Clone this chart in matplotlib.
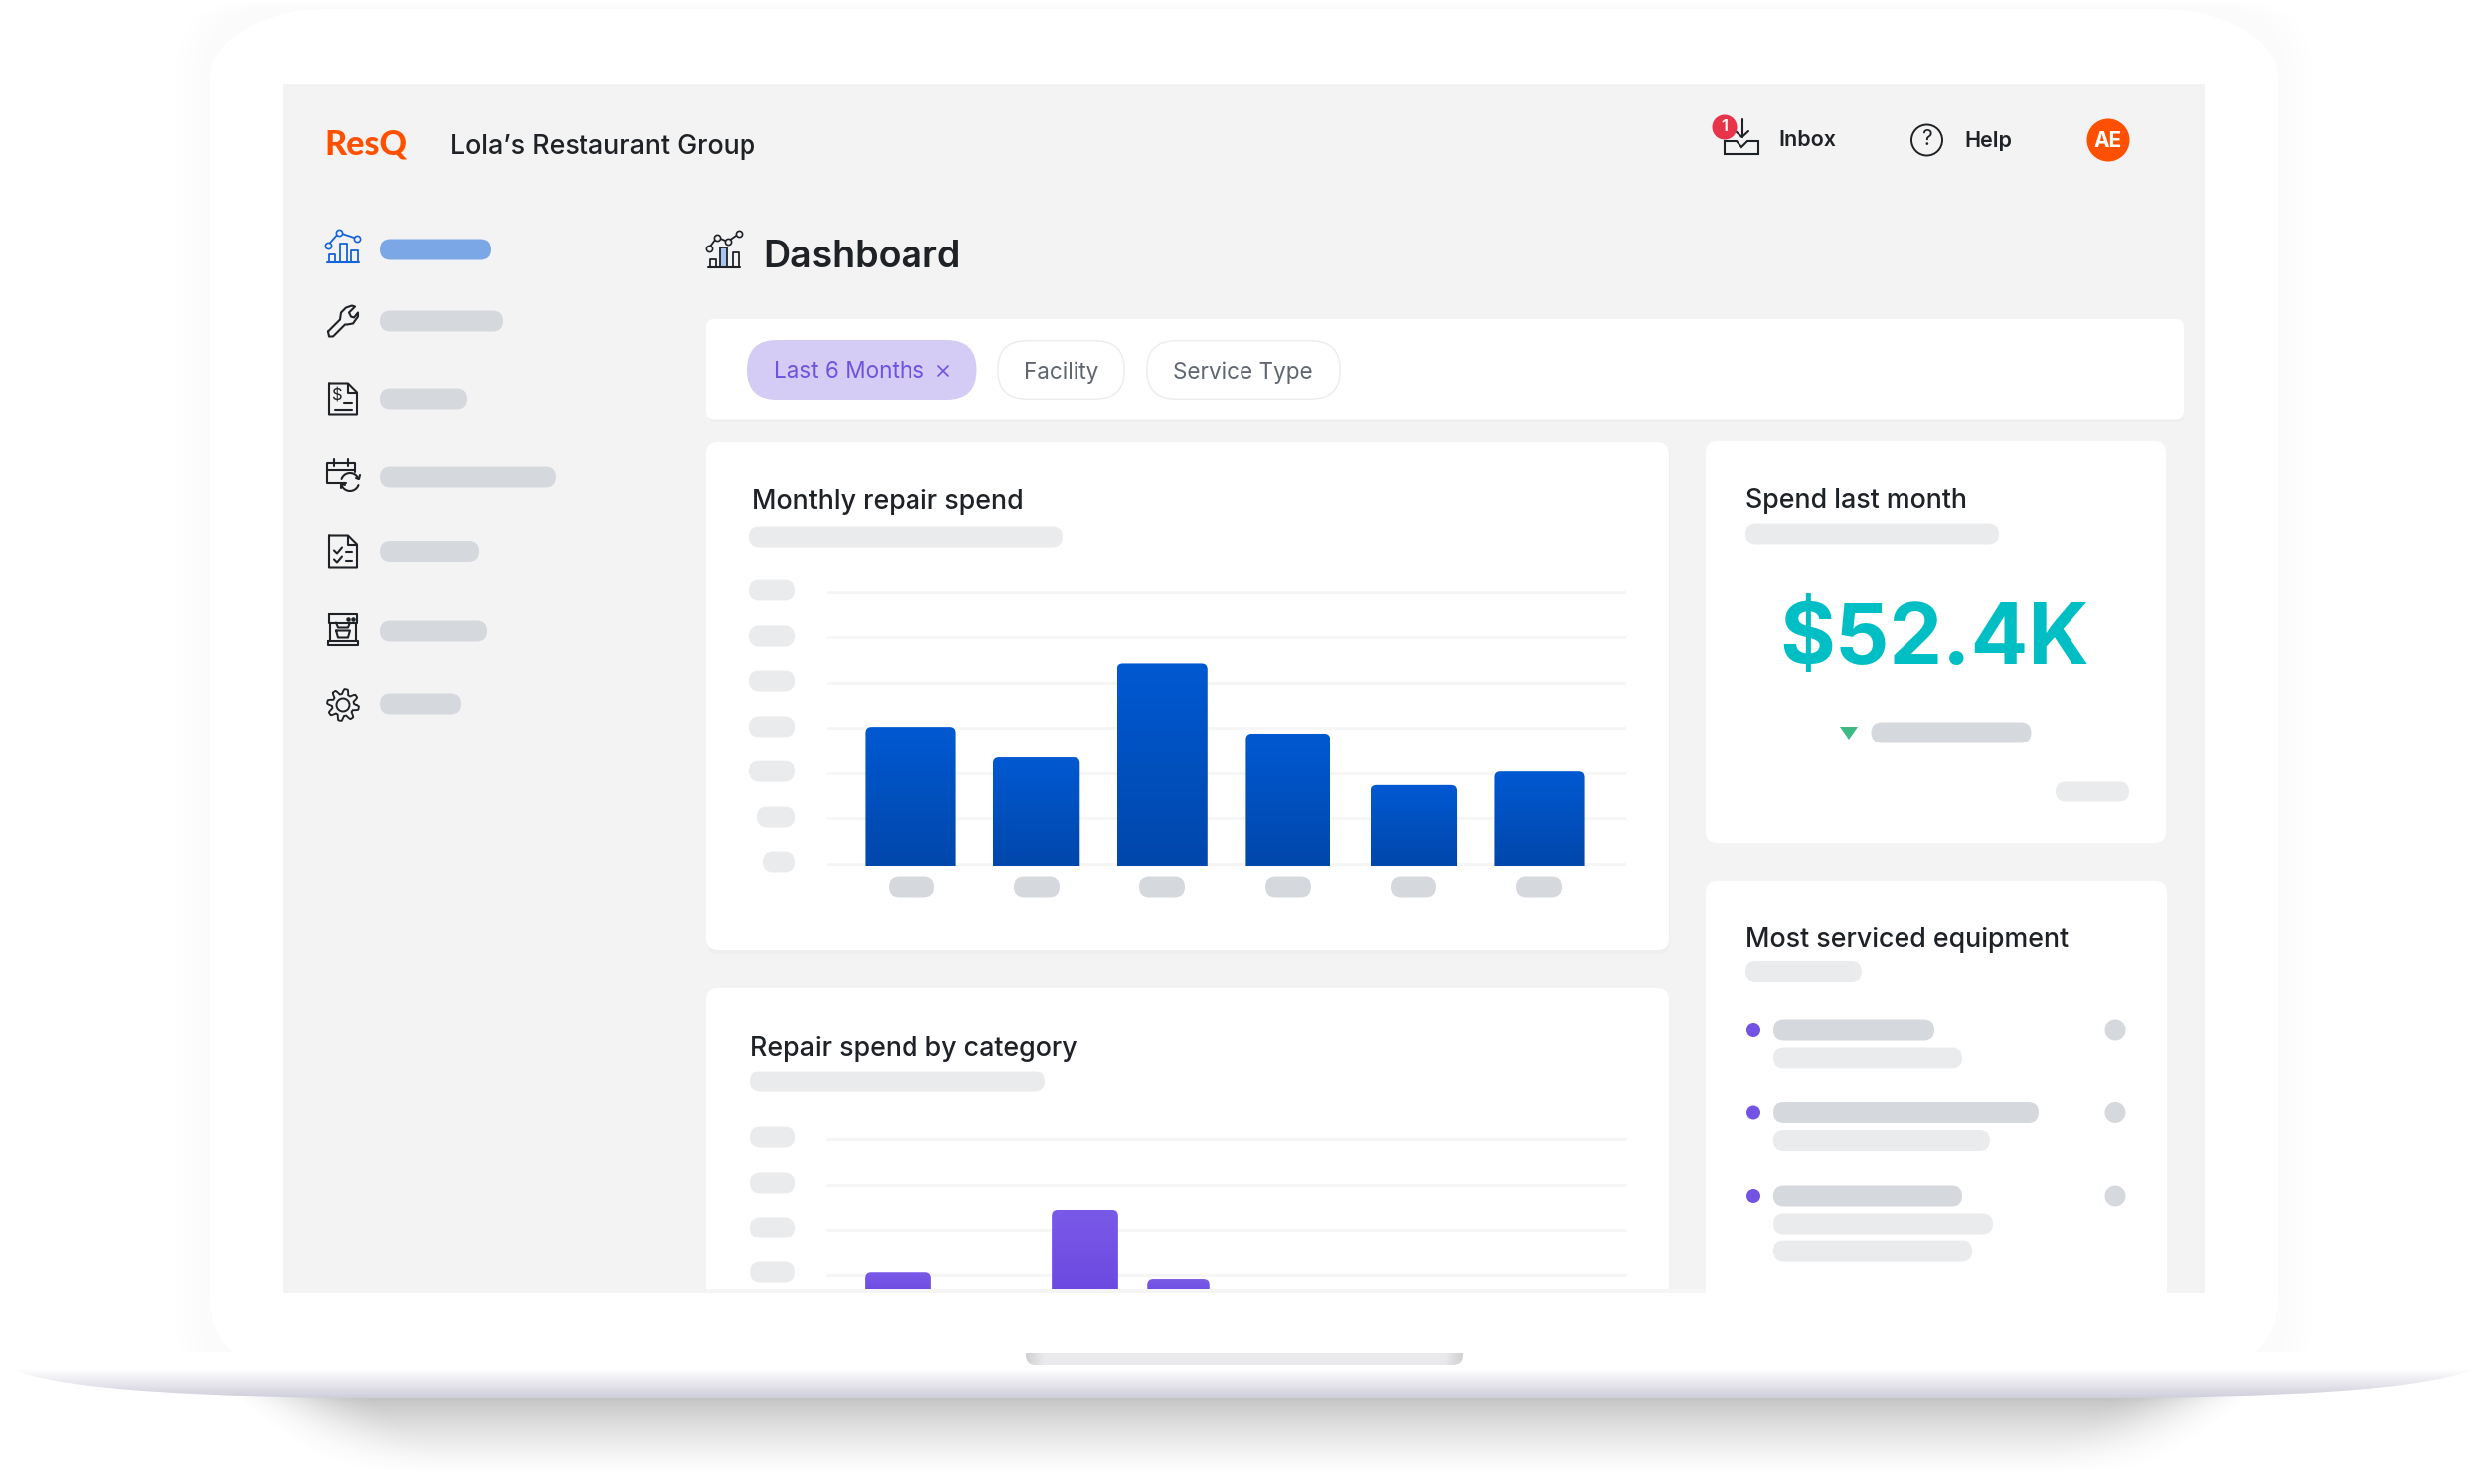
import numpy as np
import matplotlib
matplotlib.use('Agg')
import matplotlib.pyplot as plt
from matplotlib.patches import FancyBboxPatch, Circle, Rectangle, PathPatch, Polygon
from matplotlib.path import Path
from matplotlib.colors import to_rgb

# chart data
monthly_spend = [3.03, 2.35, 4.43, 2.88, 1.74, 2.04]
monthly_widths = [0.72, 0.69, 0.72, 0.67, 0.69, 0.72]
category_pos = [0, 2, 3]
category_spend = [3.05, 4.44, 2.90]
category_widths = [0.71, 0.71, 0.665]
grid_levels = [0, 1, 2, 3, 4, 5, 6]

company = "Lola’s Restaurant Group"
filters = ["Last 6 Months", "Facility", "Service Type"]
big_number = "$52.4K"

INK = '#1E2226'
BG = '#F3F3F3'
PILL_DARK = '#D5D8DD'
PILL_LIGHT = '#EAEBED'
ORANGE = '#FF5000'
PURPLE = '#7353E3'
UI_FONT = ['Inter', 'DejaVu Sans']

plt.rcParams['font.family'] = UI_FONT

fig = plt.figure(figsize=(25, 14.93), dpi=100, facecolor='white')
ax = fig.add_axes([0, 0, 1, 1])
ax.set_xlim(0, 2500)
ax.set_ylim(1493, 0)
ax.axis('off')


def rrect(x0, y0, x1, y1, r, color, z=2, alpha=None):
    p = FancyBboxPatch((x0 + r, y0 + r), x1 - x0 - 2 * r, y1 - y0 - 2 * r,
                       boxstyle=f"round,pad={r},rounding_size={r}",
                       fc=color, ec='none', zorder=z, alpha=alpha)
    ax.add_patch(p)
    return p


def pill(x0, x1, yc, color=PILL_LIGHT, h=21):
    rrect(x0, yc - h / 2, x1, yc + h / 2, h / 2, color, z=4)


def label(x, y, s, size, weight=500, color=INK, ha='left', family=None):
    ax.text(x, y, s, fontsize=size, fontweight=weight, color=color, ha=ha,
            va='center', zorder=6, family=family or UI_FONT)


def gradient(a, extent, top, bottom, clip_path, transform, z=3):
    t = np.linspace(0, 1, 128)[:, None, None]
    img = (1 - t) * np.array(to_rgb(top)) + t * np.array(to_rgb(bottom))
    im = a.imshow(img, extent=extent, aspect='auto', origin='upper', zorder=z,
                  interpolation='bilinear')
    im.set_clip_path(clip_path, transform)
    return im


# --- laptop body and base ---
for i in range(4):
    grow = 8 * (4 - i)
    rrect(210 - grow, 10 - grow / 4, 2293 + grow, 1400, 70, '#000000', z=0.5, alpha=0.005)

body = Path([(211, 78), (211, 32), (285, 9), (320, 9), (2180, 9), (2220, 9), (2292, 32), (2292, 78),
             (2292, 1307), (2292, 1335), (2280, 1350), (2268, 1361), (235, 1361), (222, 1350),
             (211, 1335), (211, 1307), (211, 78)],
            [Path.MOVETO, Path.CURVE4, Path.CURVE4, Path.CURVE4, Path.LINETO, Path.CURVE4, Path.CURVE4,
             Path.CURVE4, Path.LINETO, Path.CURVE4, Path.CURVE4, Path.CURVE4, Path.LINETO, Path.CURVE4,
             Path.CURVE4, Path.CURVE4, Path.CLOSEPOLY])
ax.add_patch(PathPatch(body, fc='white', ec='none', zorder=1))
ax.add_patch(Rectangle((0, 1360), 2500, 20, fc='white', ec='none', zorder=1))

# soft shadow under the base
xs = np.linspace(140, 2360, 500)
ys = np.linspace(0, 1, 120)
X, Y = np.meshgrid(xs, ys)
inset = 85 + 95 * Y
edge = np.clip(np.minimum(X - (140 + inset), (2360 - inset) - X) / 150, 0, 1)
edge = edge * edge * (3 - 2 * edge)
shade = np.zeros(X.shape + (4,))
shade[..., :3] = 0.30
shade[..., 3] = 0.34 * edge * (1 - Y) ** 1.3
ax.imshow(shade, extent=(140, 2360, 1484, 1405), aspect='auto', origin='upper', zorder=0.8)

base = Path([(12, 1377), (2488, 1377), (2440, 1399), (2280, 1406), (2120, 1406),
             (380, 1406), (220, 1406), (60, 1399), (12, 1377), (12, 1377)],
            [Path.MOVETO, Path.LINETO, Path.CURVE4, Path.CURVE4, Path.CURVE4,
             Path.LINETO, Path.CURVE4, Path.CURVE4, Path.CURVE4, Path.CLOSEPOLY])
gradient(ax, (12, 2488, 1406, 1377), '#FFFFFF', '#CFCEDC', base, ax.transData, z=2)

# hinge notch, darker towards its two ends
notch_x = np.linspace(0, 1, 200)
notch_grey = np.interp(notch_x, [0, 0.04, 0.96, 1], [0.82, 0.92, 0.92, 0.82])
notch_img = np.dstack([notch_grey, notch_grey, notch_grey + 0.012])
notch = rrect(1032, 1345, 1472, 1373, 10, 'none', z=1.5)
im = ax.imshow(notch_img, extent=(1032, 1472, 1373, 1345), aspect='auto', origin='upper', zorder=1.5)
im.set_clip_path(notch)
ax.add_patch(Rectangle((1020, 1335), 470, 25.5, fc='white', ec='none', zorder=1.6))
ax.set_xlim(0, 2500)
ax.set_ylim(1493, 0)

# --- screen ---
ax.add_patch(Rectangle((285, 85), 1933, 1216, fc=BG, ec='none', zorder=1.8))

label(326, 146, "ResQ", 24.5, weight=900, color=ORANGE, family=['Lato', 'DejaVu Sans'])
label(453, 148, company, 19.3, weight=500)


def stroke(xs, ys, color=INK, lw=1.5, z=5):
    ax.plot(xs, ys, color=color, lw=lw, solid_capstyle='round', solid_joinstyle='round', zorder=z)


def chart_icon(cx, cy, bars, points, base_y, color=INK, fill=None):
    stroke([cx - 16, cx + 16], [cy + base_y, cy + base_y], color)
    for k, (b0, b1, top) in enumerate(bars):
        if fill and k == 1:
            ax.add_patch(Rectangle((cx + b0, cy + top), b1 - b0, base_y - top, fc=fill, ec='none', zorder=4))
        stroke([cx + b0, cx + b0, cx + b1, cx + b1],
               [cy + base_y, cy + top, cy + top, cy + base_y], color, lw=1.3)
    px = [cx + p[0] for p in points]
    py = [cy + p[1] for p in points]
    stroke(px, py, color, lw=1.3)
    ax.scatter(px, py, s=20, fc=BG, ec=color, lw=1.2, zorder=6)


def doc_icon(cx, cy):
    xs = [cx - 14, cx + 5, cx + 14, cx + 14, cx - 14, cx - 14]
    ys = [cy - 16, cy - 16, cy - 7, cy + 16, cy + 16, cy - 16]
    stroke(xs, ys)
    stroke([cx + 5, cx + 5, cx + 14], [cy - 16, cy - 7, cy - 7])


def dollar_doc(cx, cy):
    doc_icon(cx, cy)
    ax.text(cx - 6, cy - 3, "$", fontsize=12, ha='center', va='center', color=INK, zorder=6)
    stroke([cx + 1, cx + 9], [cy + 3, cy + 3])
    stroke([cx - 8, cx + 9], [cy + 10, cy + 10])


def check_doc(cx, cy):
    doc_icon(cx, cy)
    for dy in (0, 9):
        stroke([cx - 9, cx - 6, cx - 1], [cy + dy - 1, cy + dy + 2, cy + dy - 4])
        stroke([cx + 3, cx + 9], [cy + dy, cy + dy])


def wrench_icon(cx, cy):
    xs = [-15, -3, -2, 3, 9, 12, 6, 8, 11, 15, 15, 10, 4, 2, -10, -14, -15]
    ys = [10, -2, -9, -14, -16, -15, -9, -5, -4, -9, -5, 2, 3, 3, 15, 15, 10]
    stroke([cx + v for v in xs], [cy + v for v in ys])


def calendar_icon(cx, cy):
    stroke([cx + 3, cx - 16, cx - 16, cx + 12, cx + 12], [cy + 8, cy + 8, cy - 12, cy - 12, cy - 3])
    stroke([cx - 16, cx + 12], [cy - 5, cy - 5])
    stroke([cx - 9, cx - 9], [cy - 16, cy - 9])
    stroke([cx + 5, cx + 5], [cy - 16, cy - 9])
    t = np.radians(np.linspace(200, 340, 20))
    stroke(cx + 7 + 9 * np.cos(t), cy + 7 + 9 * np.sin(t))
    t = np.radians(np.linspace(20, 160, 20))
    stroke(cx + 7 + 9 * np.cos(t), cy + 7 + 9 * np.sin(t))
    stroke([cx + 13, cx + 16, cx + 17], [cy + 3, cy + 4, cy])
    stroke([cx - 2, cx - 2, cx + 2], [cy + 13, cy + 9, cy + 10])


def coffee_icon(cx, cy):
    stroke([cx - 14, cx + 14, cx + 14, cx - 14, cx - 14], [cy - 15, cy - 15, cy - 6, cy - 6, cy - 15])
    stroke([cx - 13, cx - 13], [cy - 6, cy + 12])
    stroke([cx + 13, cx + 13], [cy - 6, cy + 12])
    stroke([cx - 15, cx + 15, cx + 15, cx - 15, cx - 15], [cy + 12, cy + 12, cy + 16, cy + 16, cy + 12])
    stroke([cx - 7, cx - 5, cx + 5, cx + 7], [cy - 6, cy - 1, cy - 1, cy - 6])
    stroke([cx - 7, cx - 5, cx + 5, cx + 7, cx - 7], [cy + 2, cy + 9, cy + 9, cy + 2, cy + 2])
    ax.scatter([cx + 5, cx + 10], [cy - 10, cy - 10], s=5, color=INK, zorder=6)


def gear_icon(cx, cy):
    t = np.linspace(0, 2 * np.pi, 320)
    r = 13.5 + 2.5 * np.clip(np.sin(8 * t) * 1.5, -1, 1)
    stroke(cx + r * np.cos(t), cy + r * np.sin(t), lw=1.35)
    ax.add_patch(Circle((cx, cy), 6.5, fc='none', ec=INK, lw=1.4, zorder=5))


# sidebar rows, icon and placeholder bar
chart_icon(345, 248.5, [(-14, -8, 7.5), (-3, 4, -3.5), (7.5, 14.6, 3.5)],
           [(-15.5, -1.5), (-4, -14.5), (14, -8.5)], 15.5, '#1463D8')
pill(382, 494, 251, '#7BA7E6')
wrench_icon(345, 323.5)
pill(382, 506, 323, PILL_DARK)
dollar_doc(345, 401.5)
pill(382, 470, 401, PILL_DARK)
calendar_icon(345, 478)
pill(382, 559, 480, PILL_DARK)
check_doc(345, 554.5)
pill(382, 482, 554.5, PILL_DARK)
coffee_icon(345, 632.5)
pill(382, 490, 635, PILL_DARK)
gear_icon(345, 709)
pill(382, 464, 708, PILL_DARK)

# header right
tray = Path([(1735, 142), (1747, 142), (1752, 148), (1758, 142), (1769, 142),
             (1769, 155), (1735, 155), (1735, 142)],
            [Path.MOVETO, Path.LINETO, Path.LINETO, Path.LINETO, Path.LINETO,
             Path.LINETO, Path.LINETO, Path.CLOSEPOLY])
ax.add_patch(PathPatch(tray, fc='none', ec=INK, lw=1.5, zorder=5))
stroke([1752.5, 1752.5], [120, 138])
stroke([1746, 1752.5, 1759], [132, 138, 132])
ax.add_patch(Circle((1735, 128), 12.5, fc='#E8344A', ec='none', zorder=6))
label(1735, 128, "1", 12, weight=600, color='white', ha='center')
label(1789, 141, "Inbox", 15.5, weight=600)
ax.add_patch(Circle((1938.5, 141), 15.5, fc='none', ec=INK, lw=1.4, zorder=5))
label(1938.5, 140.5, "?", 15, weight=400, ha='center')
label(1976, 142.5, "Help", 15.5, weight=600)
ax.add_patch(Circle((2121, 141), 21.5, fc=ORANGE, ec='none', zorder=5))
label(2121, 142, "AE", 15, weight=700, color='white', ha='center')

# page title
chart_icon(728, 251.5, [(-14, -8, 9.5), (-4, 3, -2.5), (8.6, 15, 2.5)],
           [(-15.5, -1.5), (-7, -13), (3.5, -8.5), (15, -16.5)], 17.5, INK, '#A9C4EC')
label(768, 259, "Dashboard", 27.1, weight=600)

# filter bar
rrect(711, 324, 2197, 425, 8, '#EEEEEE', z=2.1)
rrect(710, 321, 2197, 422.5, 8, 'white', z=2.2)
rrect(752, 342, 982.5, 402, 30, '#D5CCF6', z=3)
label(779, 374.5, filters[0], 16.2, weight=400, color='#6F52E0')
stroke([944, 954], [368, 378], '#6F52E0', 1.2)
stroke([944, 954], [378, 368], '#6F52E0', 1.2)
rrect(1003, 342, 1132, 402, 30, '#ECEDEF', z=3)
rrect(1004.5, 343.5, 1130.5, 400.5, 28.5, 'white', z=3.1)
label(1067.5, 374.5, filters[1], 16.2, weight=400, color='#5F6670', ha='center')
rrect(1153, 342, 1349, 402, 30, '#ECEDEF', z=3)
rrect(1154.5, 343.5, 1347.5, 400.5, 28.5, 'white', z=3.1)
label(1250.5, 374.5, filters[2], 16.2, weight=400, color='#5F6670', ha='center')

# cards
rrect(711, 448, 1680, 960, 12, '#EFEFEF', z=2.1)
rrect(710, 445, 1679, 956, 12, 'white', z=2.2)
rrect(710, 994, 1679, 1320, 12, 'white', z=2.2)
ax.add_patch(Rectangle((710, 1297), 1006, 4, fc='#F5F5F6', ec='none', zorder=3.5))
rrect(1716, 444, 2179, 848, 12, 'white', z=2.2)
rrect(1716, 886, 2180, 1320, 12, 'white', z=2.2)
ax.add_patch(Rectangle((280, 1301), 2000, 30, fc='white', ec='none', zorder=3.4))

label(757, 505, "Monthly repair spend", 19.3, weight=500)
pill(754, 1069, 540)
label(755, 1055, "Repair spend by category", 19.3, weight=500)
pill(755, 1051, 1088)
label(1756, 504, "Spend last month", 19.3, weight=500)
pill(1756, 2011, 537)
label(1756, 946, "Most serviced equipment", 19.3, weight=500)
pill(1756, 1873, 977.5)

for x0, yc in zip([754, 754, 754, 754, 754, 762, 768], [594, 640, 685, 731, 776, 822, 867]):
    pill(x0, 800, yc)
for xc in [917, 1043, 1169, 1296, 1422, 1548]:
    pill(xc - 23, xc + 23, 892, PILL_DARK)
for yc in [1144, 1190, 1235, 1280]:
    pill(755, 800, yc)

ax.text(1946.5, 646, big_number, fontsize=61.5, fontweight='bold', color='#00BFC4', ha='center',
        va='center', zorder=6, family=UI_FONT)
ax.add_patch(Polygon([(1851, 731), (1869, 731), (1860, 744)], fc='#3DB985', ec='none', zorder=5))
pill(1882.5, 2043.5, 737, PILL_DARK)
pill(2068, 2142, 796.5, PILL_LIGHT, h=20)

rows = [(1036, 1946, [(1064, 1974)]), (1119.5, 2051, [(1147.5, 2002)]), (1203, 1974, [(1231, 2005), (1259, 1984)])]
for yc, x1, lights in rows:
    ax.add_patch(Circle((1764, yc), 7, fc=PURPLE, ec='none', zorder=5))
    pill(1784, x1, yc, PILL_DARK)
    for ly, lx in lights:
        pill(1784, lx, ly)
    ax.add_patch(Circle((2128, yc), 10.5, fc=PILL_DARK, ec='none', zorder=5))


# --- the two real bar charts, each placed over its card in figure pixels ---
def chart_axes(x0, x1, y0, y1):
    a = fig.add_axes([x0 / 2500, 1 - y1 / 1493, (x1 - x0) / 2500, (y1 - y0) / 1493])
    a.patch.set_alpha(0)
    for s in a.spines.values():
        s.set_visible(False)
    a.tick_params(length=0, labelbottom=False, labelleft=False)
    a.set_xticks([])
    a.set_yticks(grid_levels)
    a.grid(axis='y', color='#F6F6F7', lw=2.2)
    a.set_axisbelow(True)
    return a


def round_bars(a, xpos, values, widths, bottom, top_color, bottom_color, px_x, px_y):
    bars = a.bar(xpos, np.array(values) - bottom, widths, bottom=bottom, color='none')
    rx, ry = 6 / px_x, 6 / px_y
    for rect in bars:
        x0, y0 = rect.get_x(), rect.get_y()
        x1, y1 = x0 + rect.get_width(), y0 + rect.get_height()
        outline = Path([(x0, y0), (x0, y1 - ry), (x0, y1), (x0 + rx, y1), (x1 - rx, y1), (x1, y1),
                        (x1, y1 - ry), (x1, y0), (x0, y0)],
                       [Path.MOVETO, Path.LINETO, Path.CURVE3, Path.CURVE3, Path.LINETO, Path.CURVE3,
                        Path.CURVE3, Path.LINETO, Path.CLOSEPOLY])
        gradient(a, (x0, x1, y0, y1), top_color, bottom_color, outline, a.transData)


ax_month = chart_axes(832, 1636, 590, 875)
month_xlim = ((832 - 916) / 126.6, (1636 - 916) / 126.6)
month_ylim = ((869 - 875) / 45.5, (869 - 590) / 45.5)
round_bars(ax_month, range(len(monthly_spend)), monthly_spend, monthly_widths, -0.05,
           '#0059D2', '#0047AB', 126.6, 45.5)
ax_month.set_xlim(month_xlim)
ax_month.set_ylim(month_ylim)

ax_cat = chart_axes(831, 1637, 1140, 1297)
cat_xlim = ((831 - 903.5) / 94, (1637 - 903.5) / 94)
cat_ylim = ((1419 - 1297) / 45.5, (1419 - 1140) / 45.5)
round_bars(ax_cat, category_pos, category_spend, category_widths, 2.5,
           '#7A5AE8', '#6B47E0', 94, 45.5)
ax_cat.set_xlim(cat_xlim)
ax_cat.set_ylim(cat_ylim)

fig.savefig('out.png', dpi=100, facecolor='white')
